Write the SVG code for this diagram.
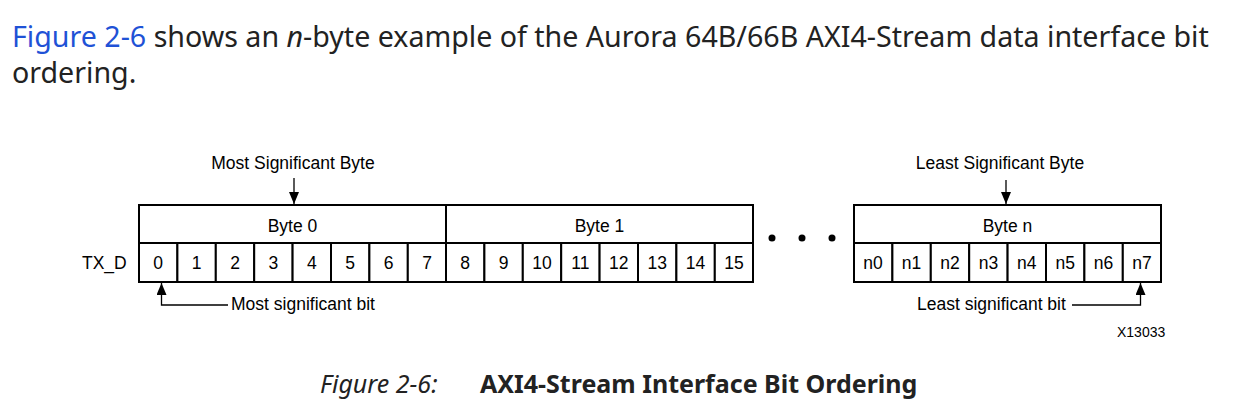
<svg xmlns="http://www.w3.org/2000/svg" width="1253" height="417" viewBox="0 0 1253 417">
<defs>
<marker id="ah" markerWidth="12" markerHeight="10" refX="12" refY="5" orient="auto" markerUnits="userSpaceOnUse" viewBox="0 0 12 10"><path d="M0,0 L12,5 L0,10 Z" fill="#000"/></marker>
</defs>
<style>
.d{font-family:"Liberation Sans",Arial,sans-serif;font-size:17.5px;fill:#000}
.c{text-anchor:middle}
.b{fill:#fff;stroke:#000;stroke-width:2}
.l{fill:none;stroke:#000;stroke-width:1.3}
.h{font-family:"Noto Sans","Open Sans",sans-serif;font-size:28.6px;fill:#222}
</style>
<rect width="1253" height="417" fill="#fff"/>
<text class="h" x="12" y="47"><tspan fill="#1f52d6">Figure 2-6</tspan> shows an <tspan font-style="italic">n</tspan>-byte example of the Aurora 64B/66B AXI4-Stream data interface bit</text>
<text class="h" x="12" y="83">ordering.</text>
<g id="byte0">
<rect class="b" x="139" y="205" width="307" height="38"/>
<text class="d c" x="292.5" y="232">Byte 0</text>
</g>
<g id="byte1">
<rect class="b" x="446" y="205" width="307" height="38"/>
<text class="d c" x="599.5" y="232">Byte 1</text>
</g>
<g id="byten">
<rect class="b" x="854" y="205" width="307" height="38"/>
<text class="d c" x="1007.5" y="232">Byte n</text>
</g>
<text class="d" x="82" y="269">TX_D</text>
<g id="bits0">
<rect class="b" x="139" y="243" width="38.4" height="39"/><rect class="b" x="177.4" y="243" width="38.4" height="39"/><rect class="b" x="215.8" y="243" width="38.4" height="39"/><rect class="b" x="254.2" y="243" width="38.4" height="39"/><rect class="b" x="292.6" y="243" width="38.4" height="39"/><rect class="b" x="331" y="243" width="38.4" height="39"/><rect class="b" x="369.4" y="243" width="38.4" height="39"/><rect class="b" x="407.8" y="243" width="38.2" height="39"/>
<g class="d c"><text x="158" y="269">0</text><text x="196.5" y="269">1</text><text x="235" y="269">2</text><text x="273.4" y="269">3</text><text x="311.8" y="269">4</text><text x="350.2" y="269">5</text><text x="388.6" y="269">6</text><text x="427" y="269">7</text></g>
</g>
<g id="bits1">
<rect class="b" x="446" y="243" width="38.4" height="39"/><rect class="b" x="484.4" y="243" width="38.4" height="39"/><rect class="b" x="522.8" y="243" width="38.4" height="39"/><rect class="b" x="561.2" y="243" width="38.4" height="39"/><rect class="b" x="599.6" y="243" width="38.4" height="39"/><rect class="b" x="638" y="243" width="38.4" height="39"/><rect class="b" x="676.4" y="243" width="38.4" height="39"/><rect class="b" x="714.8" y="243" width="38.2" height="39"/>
<g class="d c"><text x="465" y="269">8</text><text x="503.5" y="269">9</text><text x="542" y="269">10</text><text x="580.4" y="269">11</text><text x="618.8" y="269">12</text><text x="657.2" y="269">13</text><text x="695.6" y="269">14</text><text x="734" y="269">15</text></g>
</g>
<g id="bitsn">
<rect class="b" x="854" y="243" width="38.4" height="39"/><rect class="b" x="892.4" y="243" width="38.4" height="39"/><rect class="b" x="930.8" y="243" width="38.4" height="39"/><rect class="b" x="969.2" y="243" width="38.4" height="39"/><rect class="b" x="1007.6" y="243" width="38.4" height="39"/><rect class="b" x="1046" y="243" width="38.4" height="39"/><rect class="b" x="1084.4" y="243" width="38.4" height="39"/><rect class="b" x="1122.8" y="243" width="38.2" height="39"/>
<g class="d c"><text x="873" y="269">n0</text><text x="911.5" y="269">n1</text><text x="950" y="269">n2</text><text x="988.4" y="269">n3</text><text x="1026.8" y="269">n4</text><text x="1065.2" y="269">n5</text><text x="1103.6" y="269">n6</text><text x="1142" y="269">n7</text></g>
</g>
<g id="dots"><circle cx="772" cy="238" r="3.5"/><circle cx="802" cy="238" r="3.5"/><circle cx="832" cy="238" r="3.5"/></g>
<text class="d c" x="293" y="169">Most Significant Byte</text>
<text class="d c" x="1000" y="169">Least Significant Byte</text>
<text class="d" x="231" y="310">Most significant bit</text>
<text class="d" x="917" y="310">Least significant bit</text>
<text x="1117" y="337" style="font-family:'Liberation Sans',Arial,sans-serif;font-size:14px">X13033</text>
<g id="connectors">
<path class="l" d="M294,178 V204" marker-end="url(#ah)"/>
<path class="l" d="M1006,180 V204" marker-end="url(#ah)"/>
<path class="l" d="M228,305 H161.5 V283" marker-end="url(#ah)"/>
<path class="l" d="M1072,305 H1140.5 V283" marker-end="url(#ah)"/>
</g>
<text x="320" y="393" style="font-family:'Noto Sans','Open Sans',sans-serif;font-size:25px;font-style:italic;fill:#222">Figure 2-6:</text>
<text x="480" y="393" style="font-family:'Noto Sans','Open Sans',sans-serif;font-size:25px;font-weight:bold;fill:#222">AXI4-Stream Interface Bit Ordering</text>
</svg>
